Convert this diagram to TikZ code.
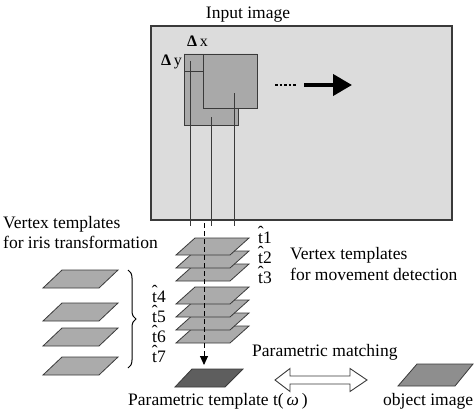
\documentclass[tikz,border=0pt]{standalone}
\usepackage{fontspec}
\setmainfont{Liberation Serif}
\usetikzlibrary{decorations.pathreplacing,arrows.meta}
\definecolor{boxgray}{HTML}{DCDCDC}
\definecolor{sqgray}{HTML}{A9A9A9}
\definecolor{plategray}{HTML}{ABABAB}
\definecolor{darkplate}{HTML}{5E5E5E}
\definecolor{objplate}{HTML}{8E8E8E}
\definecolor{linegray}{HTML}{3A3A3A}
\newcommand\hatt[1]{\makebox[0pt][l]{\hspace{-0.02em}\raisebox{0.26em}{ˆ}}t#1}
\begin{document}
\begin{tikzpicture}[x=1pt,y=-1pt,
  font=\fontsize{17.5}{20}\selectfont,
  lbl/.style={anchor=base west,inner sep=0pt},
  plate/.style={draw=linegray,fill=plategray,line width=0.8pt,line join=miter},
  thinline/.style={draw=linegray,line width=0.9pt}]
\useasboundingbox (0,0) rectangle (474,412);

% input image box
\draw[thinline,fill=boxgray,line width=1.2pt] (151,26) rectangle (452,220);
\node[anchor=base,inner sep=0pt] (title) at (248,19) {Input image};

% moving windows
\fill[sqgray] (184,54) -- (257,54) -- (257,108) -- (238,108) -- (238,125) -- (184,125) -- cycle;
\draw[thinline] (203,54) rectangle (257,108);
\draw[thinline] (184,54) -- (203,54);
\draw[thinline] (184,71) -- (203,71);
\draw[thinline] (184,54) -- (184,125) -- (238,125) -- (238,108);
\node[lbl,font=\fontsize{16}{18}\selectfont] (dx) at (187,47) {\textbf{Δ}\,x};
\node[lbl,font=\fontsize{16}{18}\selectfont] (dy) at (161,66) {\textbf{Δ}\,y};

% sampling lines
\coordinate (a1) at (190,61);  \coordinate (b1) at (190,226);
\coordinate (a2) at (211,117); \coordinate (b2) at (211,226);
\coordinate (a3) at (234,93);  \coordinate (b3) at (234,226);
\draw[thinline] (a1) -- (b1);
\draw[thinline] (a2) -- (b2);
\draw[thinline] (a3) -- (b3);

% scan arrow
\coordinate (s1) at (275,85); \coordinate (s2) at (297,85);
\coordinate (s3) at (304,85); \coordinate (s4) at (352,85);
\draw[black,line width=2.5pt,dash pattern=on 2.5pt off 2pt] (s1) -- (s2);
\draw[black,line width=4pt,-{Triangle[length=19pt,width=21pt]}] (s3) -- (s4);

% central stack (draw bottom first so upper plates lie on top)
\foreach \t in {326,313,300,287,264,251,238}
  \draw[plate] (176,\t+17) -- ++(54,0) -- ++(19,-17) -- ++(-54,0) -- cycle;

\coordinate (dtop) at (204,223);
\coordinate (dbot) at (204,365);
\draw[black,line width=0.9pt,dash pattern=on 5pt off 3pt,-{Triangle[length=9pt,width=8pt]}] (dtop) -- (dbot);

% hat labels
\node[lbl] (t1) at (258,243) {\hatt{1}};
\node[lbl] (t2) at (258,263) {\hatt{2}};
\node[lbl] (t3) at (258,283) {\hatt{3}};
\node[lbl] (t4) at (152,302) {\hatt{4}};
\node[lbl] (t5) at (152,322) {\hatt{5}};
\node[lbl] (t6) at (152,342) {\hatt{6}};
\node[lbl] (t7) at (152,362) {\hatt{7}};

% left plates
\foreach \t in {270,303,328,357}
  \draw[plate] (43,\t+18) -- ++(56,0) -- ++(19,-18) -- ++(-56,0) -- cycle;

% brace
\coordinate (br1) at (128,270); \coordinate (br2) at (128,368);
\draw[black,line width=1pt,decorate,decoration={brace,amplitude=8pt}] (br1) -- (br2);

% labels
\node[lbl] (l1) at (3,228) {Vertex templates};
\node[lbl] (l2) at (3,248) {for iris transformation};
\node[lbl] (r1) at (290,259) {Vertex templates};
\node[lbl] (r2) at (290,280) {for movement detection};
\node[lbl] (pm) at (252,356) {Parametric matching};

% parametric template and object image
\draw[plate,fill=darkplate] (175,387) -- (225,387) -- (243,369) -- (192,369) -- cycle;
\draw[plate,fill=objplate] (398,386) -- (455,386) -- (473,364) -- (417,364) -- cycle;

% double arrow
\draw[thinline,fill=white] (275,380) -- (290,368.5) -- (290,376) -- (350,376) -- (350,368.5)
  -- (367,380) -- (350,391.5) -- (350,384) -- (290,384) -- (290,391.5) -- cycle;

\node[lbl] (pt) at (128,405) {Parametric template t(\,\textit{ω}\,)};
\node[lbl] (oi) at (383,405) {object image};
\end{tikzpicture}
\end{document}
